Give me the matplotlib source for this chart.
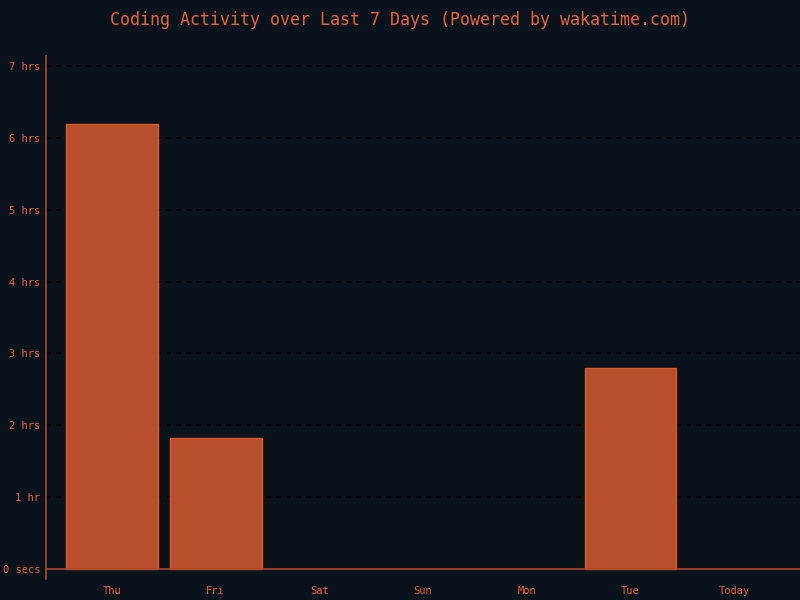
import numpy as np
import matplotlib.pyplot as plt

plt.rcParams['font.family'] = ['DejaVu Sans Mono']

days = ['Thu', 'Fri', 'Sat', 'Sun', 'Mon', 'Tue', 'Today']
hours = [6.19, 1.83, 0, 0, 0, 2.80, 0]
y_ticks = [0, 1, 2, 3, 4, 5, 6, 7]
y_labels = ['0 secs', '1 hr', '2 hrs', '3 hrs', '4 hrs', '5 hrs', '6 hrs', '7 hrs']

bg = '#0a131b'
orange = '#e8643a'
bar_fill = '#b94e2c'
bar_edge = '#d9592d'
axis_col = '#a8482a'

fig = plt.figure(figsize=(8, 6), dpi=100, facecolor=bg)
ax = fig.add_axes([0.0575, 0.035, 0.9425, 0.8717], facecolor=bg)

x = np.arange(len(days))
widths = [1 if h > 0 else 0 for h in hours]
ax.bar(x, hours, width=0.885, color=bar_fill, edgecolor=bar_edge, linewidth=widths, zorder=3)

for t in y_ticks[1:]:
    ax.axhline(t, color='black', linestyle=(0, (3, 3)), linewidth=1.2, zorder=1)
ax.axhline(0, color=axis_col, linewidth=1.2, zorder=4)

ax.set_xlim(-0.636, 6.634)
ax.set_ylim(-0.139, 7.14)

ax.set_yticks(y_ticks)
ax.set_yticklabels(y_labels)
ax.set_xticks(x)
ax.set_xticklabels(days)
ax.tick_params(axis='both', length=0, colors=orange, labelsize=7.5)
ax.tick_params(axis='y', pad=4)
ax.tick_params(axis='x', pad=5)

for side in ['top', 'right', 'bottom']:
    ax.spines[side].set_visible(False)
ax.spines['left'].set_color(axis_col)
ax.spines['left'].set_linewidth(1.2)

fig.text(0.5, 0.967, 'Coding Activity over Last 7 Days (Powered by wakatime.com)',
         ha='center', va='center', color=orange, fontsize=12)

fig.savefig('out.png', dpi=100, facecolor=bg)
